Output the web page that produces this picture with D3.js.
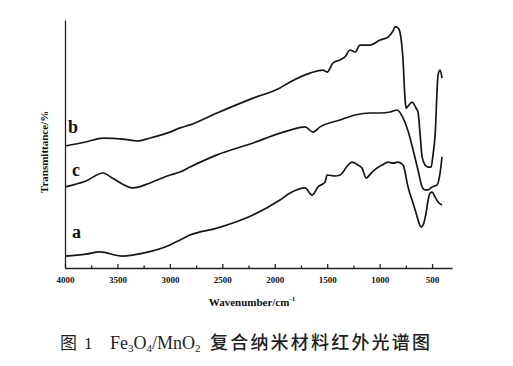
<!DOCTYPE html>
<html>
<head>
<meta charset="utf-8">
<script src="https://cdn.jsdelivr.net/npm/d3@7"></script>
<style>
  body { margin: 0; background: #fff; }
  svg { display: block; }
</style>
</head>
<body>
<svg id="chart"></svg>
<script>
// IR spectra, values (arbitrary transmittance units)
const wavenumber_b = [4000, 3800, 3638, 3450, 3313, 3189, 2999, 2903, 2808, 2550, 2207, 1950, 1854, 1663, 1539, 1501, 1444, 1377, 1330, 1282, 1234, 1187, 1091, 996, 920, 872, 853, 824, 805, 777, 757, 748, 729, 691, 653, 634, 615, 595, 567, 538, 510, 491, 471, 443, 424, 405];
const trans_b = [49.2, 50.8, 52.4, 52.0, 51.2, 52.4, 54.8, 56.5, 57.7, 62.5, 68.5, 72.6, 75.0, 78.6, 79.8, 79.0, 82.7, 83.9, 85.1, 87.9, 87.1, 89.9, 89.9, 91.9, 93.1, 95.6, 97.2, 96.8, 94.8, 83.9, 67.7, 64.5, 65.3, 66.9, 64.5, 62.9, 54.4, 44.8, 41.5, 40.7, 40.7, 45.6, 53.6, 77.8, 79.8, 76.6];

const wavenumber_c = [4000, 3800, 3638, 3550, 3351, 3189, 2999, 2903, 2808, 2550, 2207, 1950, 1854, 1711, 1635, 1568, 1377, 1234, 1091, 996, 900, 834, 777, 729, 681, 634, 595, 567, 538, 500, 452, 424, 405];
const trans_c = [32.7, 35.1, 38.3, 36.3, 32.3, 34.3, 37.5, 38.7, 40.7, 45.6, 50.4, 54.4, 55.6, 56.9, 54.8, 56.9, 59.7, 61.7, 62.5, 62.5, 62.9, 63.7, 60.5, 55.2, 47.6, 39.5, 32.7, 31.5, 31.5, 32.7, 33.5, 38.3, 44.8];

const wavenumber_a = [4000, 3800, 3666, 3456, 3256, 2999, 2903, 2808, 2550, 2207, 1950, 1854, 1711, 1644, 1587, 1520, 1501, 1425, 1377, 1301, 1263, 1206, 1168, 1129, 1072, 1024, 977, 920, 872, 824, 777, 757, 738, 710, 691, 653, 624, 605, 586, 557, 538, 519, 500, 471, 443, 405];
const trans_a = [4.8, 5.6, 6.5, 4.8, 6.0, 9.3, 11.3, 13.3, 16.1, 21.4, 27.4, 30.2, 32.3, 29.4, 32.7, 34.7, 37.5, 37.1, 37.5, 41.5, 42.7, 41.5, 40.3, 36.3, 38.7, 40.3, 41.5, 42.7, 42.3, 42.7, 41.5, 38.7, 34.3, 29.8, 27.4, 22.2, 18.1, 16.5, 17.3, 22.2, 27.4, 30.2, 30.6, 28.6, 26.6, 25.4];

const curveNames = ["b", "c", "a"];
const labelAt = [54.4, 37.1, 12.1]; // baseline heights of the curve letters
const xTicks = [4000, 3500, 3000, 2500, 2000, 1500, 1000, 500];
const xMinorTicks = [3750, 3250, 2750, 2250, 1750, 1250, 750];

const width = 513;
const height = 366;
const plotLeft = 65, plotRight = 452, plotTop = 20, plotBottom = 268;

const svg = d3.select("#chart")
    .attr("width", width)
    .attr("height", height);

const x = d3.scaleLinear().domain([4000, 310]).range([plotLeft, plotRight]);
const y = d3.scaleLinear().domain([0, 100]).range([plotBottom, plotTop]);

const series = [
    wavenumber_b.map((w, i) => [w, trans_b[i]]),
    wavenumber_c.map((w, i) => [w, trans_c[i]]),
    wavenumber_a.map((w, i) => [w, trans_a[i]])
];

const line = d3.line()
    .x(d => x(d[0]))
    .y(d => y(d[1]))
    .curve(d3.curveMonotoneX);

svg.append("g")
    .selectAll("path")
    .data(series)
    .join("path")
    .attr("d", line)
    .attr("fill", "none")
    .attr("stroke", "#161616")
    .attr("stroke-width", 1.7)
    .attr("stroke-linejoin", "round");

// curve letters
svg.append("g")
    .selectAll("text")
    .data(curveNames)
    .join("text")
    .attr("x", (d, i) => i == 0 ? 68 : 72)
    .attr("y", (d, i) => y(labelAt[i]))
    .attr("font-family", "Liberation Serif")
    .attr("font-weight", "bold")
    .attr("font-size", 18)
    .attr("fill", "#111")
    .text(d => d);

// x axis: major + minor ticks pointing inward
const xAxis = svg.append("g")
    .attr("transform", `translate(0,${plotBottom})`)
    .call(d3.axisBottom(x).tickValues(xTicks).tickFormat(d3.format("d"))
        .tickSizeInner(-4).tickSizeOuter(0).tickPadding(9));

svg.append("g")
    .attr("transform", `translate(0,${plotBottom})`)
    .call(d3.axisBottom(x).tickValues(xMinorTicks).tickSizeInner(-2.5).tickSizeOuter(0).tickFormat(""))
    .select(".domain").remove();

xAxis.selectAll("text")
    .attr("font-family", "Liberation Serif")
    .attr("font-weight", "bold")
    .attr("font-size", 9)
    .attr("fill", "#111");

svg.selectAll(".domain, .tick line")
    .attr("stroke", "#222")
    .attr("stroke-width", 1.3);

// y axis: plain line, no ticks
svg.append("g")
    .attr("transform", `translate(${plotLeft},0)`)
    .call(d3.axisLeft(y).tickValues([]).tickSizeOuter(0))
    .select(".domain")
    .attr("stroke", "#222")
    .attr("stroke-width", 1.3);

// axis titles
const xTitle = svg.append("text")
    .attr("x", 252)
    .attr("y", 306)
    .attr("text-anchor", "middle")
    .attr("font-family", "Liberation Serif")
    .attr("font-weight", "bold")
    .attr("font-size", 11)
    .attr("fill", "#111");
xTitle.append("tspan").text("Wavenumber/cm");
xTitle.append("tspan").attr("font-size", 7).attr("dy", -5).text("-1");

svg.append("text")
    .attr("transform", "translate(48,152) rotate(-90)")
    .attr("text-anchor", "middle")
    .attr("font-family", "Liberation Serif")
    .attr("font-weight", "bold")
    .attr("font-size", 11)
    .attr("fill", "#111")
    .text("Transmittance/%");

// figure caption
const cap = svg.append("text")
    .attr("x", 60)
    .attr("y", 349)
    .attr("font-size", 17)
    .attr("fill", "#1e1e1e");
cap.append("tspan").attr("font-family", "Noto Sans CJK SC").text("图");
cap.append("tspan").attr("font-family", "Liberation Serif").attr("dx", 7).text("1");
cap.append("tspan").attr("font-family", "Liberation Serif").attr("x", 110).attr("font-size", 18).text("Fe");
cap.append("tspan").attr("font-family", "Liberation Serif").attr("font-size", 11).attr("dy", 3).text("3");
cap.append("tspan").attr("font-family", "Liberation Serif").attr("font-size", 18).attr("dy", -3).text("O");
cap.append("tspan").attr("font-family", "Liberation Serif").attr("font-size", 11).attr("dy", 3).text("4");
cap.append("tspan").attr("font-family", "Liberation Serif").attr("font-size", 18).attr("dy", -3).text("/MnO");
cap.append("tspan").attr("font-family", "Liberation Serif").attr("font-size", 11).attr("dy", 3).text("2");
cap.append("tspan").attr("font-family", "Noto Sans CJK SC").attr("font-weight", 500).attr("dy", -3).attr("x", 210)
    .attr("font-size", 18).attr("letter-spacing", 2.2).text("复合纳米材料红外光谱图");
</script>
</body>
</html>
